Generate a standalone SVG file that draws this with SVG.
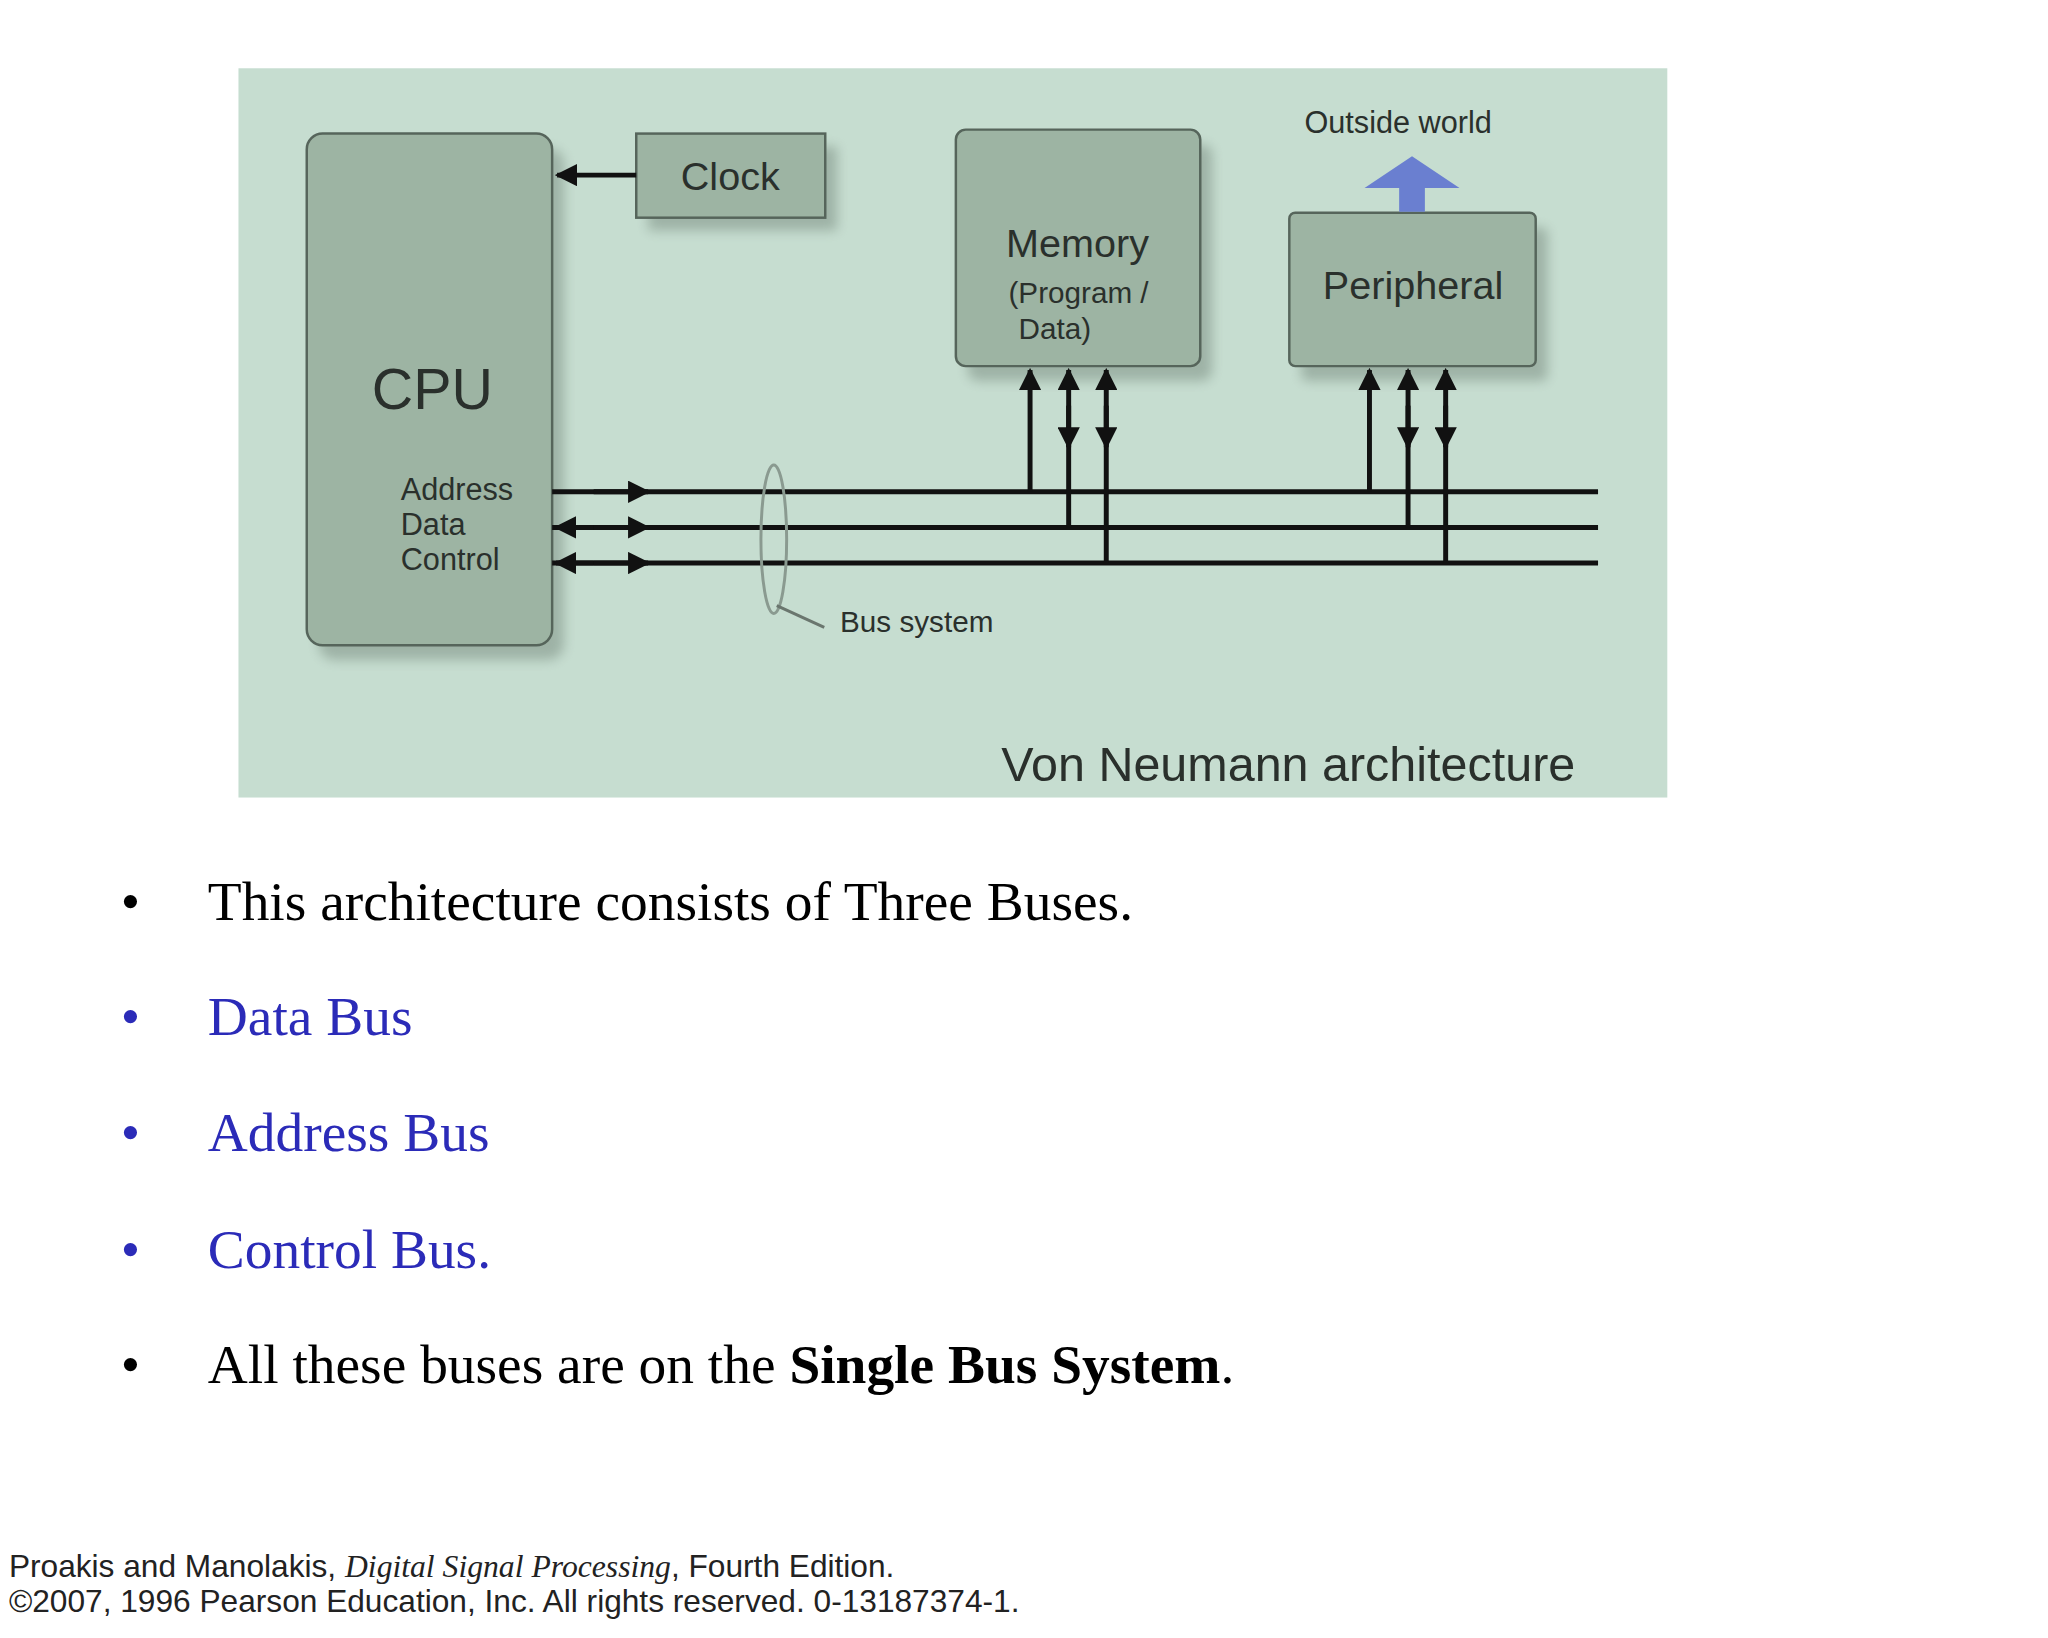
<svg xmlns="http://www.w3.org/2000/svg" width="2048" height="1638" viewBox="0 0 2048 1638">
<style>
.box{fill:#9db4a3;stroke:#56655b;stroke-width:2.5}
.shadow{fill:#6d7f73;opacity:0.45}
.lbl{font-family:"Liberation Sans",Arial,sans-serif;fill:#2a302c}
.bus{stroke:#111;stroke-width:5;fill:none}
.bul{font-family:"Liberation Serif","Times New Roman",serif;font-size:56px}
.blue{fill:#2b2bb8}
.foot{font-family:"Liberation Sans",Arial,sans-serif;font-size:32px;fill:#222}
</style>
<defs>
<marker id="ah" viewBox="0 0 10 10" refX="9" refY="5" markerWidth="4.5" markerHeight="4.5" orient="auto-start-reverse"><path d="M0,0L10,5L0,10z" fill="#111"/></marker>
<filter id="blur"><feGaussianBlur stdDeviation="6"/></filter>
</defs>
<rect width="2048" height="1638" fill="#fff"/>
<g transform="scale(0.9895)">
<rect x="241" y="69" width="1444" height="737" fill="#c6ddd0"/>
<g filter="url(#blur)" class="shadow">
<rect x="322" y="150" width="248" height="517" rx="16"/>
<rect x="655" y="148" width="191" height="85"/>
<rect x="978" y="146" width="247" height="239" rx="10"/>
<rect x="1315" y="230" width="249" height="155" rx="6"/>
</g>
<g id="cpu"><rect class="box" x="310" y="135" width="248" height="517" rx="16"/>
<text class="lbl" x="437" y="413" font-size="58" text-anchor="middle">CPU</text>
<text class="lbl" x="405" y="505" font-size="31">Address</text>
<text class="lbl" x="405" y="541" font-size="31">Data</text>
<text class="lbl" x="405" y="576" font-size="31">Control</text></g>
<g id="clock"><rect class="box" x="643" y="135" width="191" height="85"/>
<text class="lbl" x="738" y="192" font-size="40" text-anchor="middle">Clock</text></g>
<g id="memory"><rect class="box" x="966" y="131" width="247" height="239" rx="10"/>
<text class="lbl" x="1089" y="260" font-size="40" text-anchor="middle">Memory</text>
<text class="lbl" x="1090" y="306" font-size="30" text-anchor="middle">(Program /</text>
<text class="lbl" x="1066" y="343" font-size="30" text-anchor="middle">Data)</text></g>
<g id="peripheral"><rect class="box" x="1303" y="215" width="249" height="155" rx="6"/>
<text class="lbl" x="1428" y="302" font-size="40" text-anchor="middle">Peripheral</text></g>
<g id="outside"><text class="lbl" x="1413" y="134" font-size="31" text-anchor="middle">Outside world</text>
<path d="M1414,214V190H1379L1427,158L1475,190H1440V214z" fill="#6a7fd0"/></g>
<g id="connectors">
<line class="bus" x1="643" y1="177" x2="563" y2="177" marker-end="url(#ah)"/>
<line class="bus" x1="558" y1="497" x2="1615" y2="497"/>
<line class="bus" x1="558" y1="533" x2="1615" y2="533"/>
<line class="bus" x1="558" y1="569" x2="1615" y2="569"/>
<line class="bus" x1="600" y1="497" x2="655" y2="497" marker-end="url(#ah)"/>
<line class="bus" x1="600" y1="533" x2="655" y2="533" marker-end="url(#ah)"/>
<line class="bus" x1="600" y1="569" x2="655" y2="569" marker-end="url(#ah)"/>
<line class="bus" x1="600" y1="533" x2="562" y2="533" marker-end="url(#ah)"/>
<line class="bus" x1="600" y1="569" x2="562" y2="569" marker-end="url(#ah)"/>
<line class="bus" x1="1041" y1="497" x2="1041" y2="374" marker-end="url(#ah)"/>
<line class="bus" x1="1080" y1="533" x2="1080" y2="374" marker-end="url(#ah)"/>
<line class="bus" x1="1118" y1="569" x2="1118" y2="374" marker-end="url(#ah)"/>
<line class="bus" x1="1080" y1="410" x2="1080" y2="452" marker-end="url(#ah)"/>
<line class="bus" x1="1118" y1="410" x2="1118" y2="452" marker-end="url(#ah)"/>
<line class="bus" x1="1384" y1="497" x2="1384" y2="374" marker-end="url(#ah)"/>
<line class="bus" x1="1423" y1="533" x2="1423" y2="374" marker-end="url(#ah)"/>
<line class="bus" x1="1461" y1="569" x2="1461" y2="374" marker-end="url(#ah)"/>
<line class="bus" x1="1423" y1="410" x2="1423" y2="452" marker-end="url(#ah)"/>
<line class="bus" x1="1461" y1="410" x2="1461" y2="452" marker-end="url(#ah)"/>
<ellipse cx="782" cy="545" rx="13" ry="75" fill="none" stroke="#8a9a90" stroke-width="3"/>
<line x1="785" y1="612" x2="833" y2="634" stroke="#6a766e" stroke-width="3"/>
</g>
<text class="lbl" x="849" y="639" font-size="30">Bus system</text>
<text class="lbl" x="1012" y="789" font-size="49">Von Neumann architecture</text>
<g class="bul" xml:space="preserve">
<text x="122" y="930">•</text><text x="210" y="930">This architecture consists of Three  Buses.</text>
<text x="122" y="1046" class="blue">•</text><text x="210" y="1046" class="blue">Data Bus</text>
<text x="122" y="1163" class="blue">•</text><text x="210" y="1163" class="blue">Address Bus</text>
<text x="122" y="1281" class="blue">•</text><text x="210" y="1281" class="blue">Control Bus.</text>
<text x="122" y="1398">•</text><text x="210" y="1398">All these buses are on the <tspan font-weight="bold">Single Bus System</tspan>.</text>
</g>
<text class="foot" x="9" y="1594">Proakis and Manolakis, <tspan font-family="Liberation Serif,serif" font-style="italic">Digital Signal Processing</tspan>, Fourth Edition.</text>
<text class="foot" x="9" y="1629">©2007, 1996 Pearson Education, Inc. All rights reserved. 0-13187374-1.</text>
</g>
</svg>
